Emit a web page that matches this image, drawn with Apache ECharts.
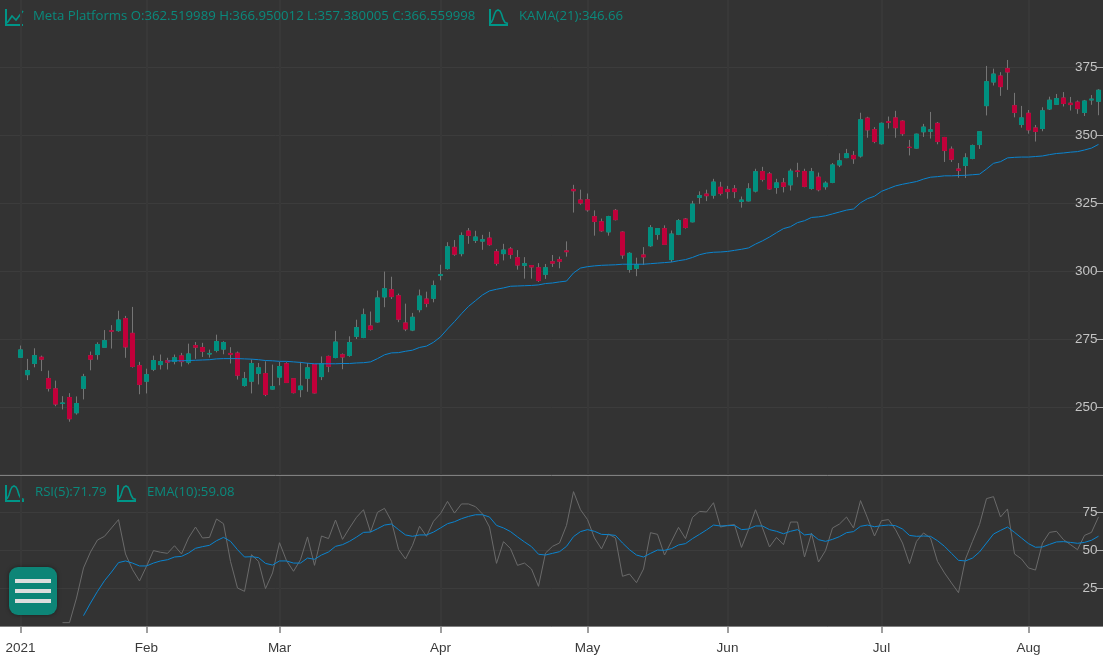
<!DOCTYPE html>
<html lang="en">
<head>
  <meta charset="UTF-8">
  <title>Meta Platforms</title>
  <script src="https://cdn.jsdelivr.net/npm/echarts@6/dist/echarts.min.js"></script>
  <style type="text/css">
    html, body { margin: 0; padding: 0; background: #fff; overflow: hidden; }
    #main { width: 1103px; height: 661px; }
  </style>
</head>
<body>
<div id="main"></div>
<script type="text/javascript">
// month ticks: trading day index -> label
var monthDays = [0, 18, 37, 60, 81, 101, 123, 144];
var monthNames = ['2021', 'Feb', 'Mar', 'Apr', 'May', 'Jun', 'Jul', 'Aug'];

var opens = [
  268.4, 262.0, 266.1, 268.4, 260.6, 256.8, 251.4, 253.6, 248.0, 257.0,
  269.0, 269.4, 272.1, 278.1, 278.2, 282.6, 277.2, 265.3, 259.6, 264.0,
  265.7, 267.1, 266.9, 268.9, 266.6, 272.7, 272.0, 269.6, 270.9, 271.4,
  269.8, 269.9, 258.0, 259.6, 262.5, 262.4, 256.7, 261.1, 266.0, 260.5,
  256.5, 260.7, 265.7, 261.3, 268.7, 268.3, 269.3, 269.1, 276.1, 275.7,
  279.9, 281.4, 290.6, 293.2, 291.0, 281.0, 278.4, 285.9, 289.8, 290.1,
  298.5, 301.0, 308.8, 306.5, 314.8, 311.4, 311.1, 312.2, 307.2, 306.5,
  308.2, 305.0, 302.2, 302.1, 301.3, 298.9, 303.5, 304.3, 307.5, 330.1,
  326.2, 326.3, 320.1, 318.2, 314.5, 322.4, 314.4, 300.7, 301.1, 306.0,
  309.4, 313.6, 315.7, 304.3, 313.6, 319.2, 318.2, 327.2, 328.4, 328.0,
  330.9, 330.1, 330.3, 325.7, 325.9, 329.5, 336.7, 335.8, 330.8, 332.5,
  331.8, 336.9, 336.7, 330.5, 334.6, 331.1, 332.7, 339.1, 341.8, 342.6,
  342.4, 356.3, 352.1, 346.9, 355.0, 356.4, 355.2, 345.6, 345.3, 351.3,
  351.5, 354.4, 349.2, 344.9, 337.6, 338.9, 341.5, 346.6, 360.9, 369.6,
  371.8, 374.5, 360.9, 354.0, 358.1, 352.7, 352.5, 359.7, 361.4, 363.7,
  361.8, 362.2, 358.4, 363.0, 362.52
];
var closes = [
  271.1, 263.5, 269.0, 267.7, 257.0, 251.2, 251.6, 245.8, 251.4, 261.2,
  267.7, 273.1, 274.5, 278.0, 282.1, 272.2, 265.0, 258.4, 262.0, 267.2,
  266.8, 266.6, 268.2, 266.8, 269.6, 272.1, 270.6, 269.8, 274.2, 273.8,
  269.5, 261.8, 260.5, 266.1, 264.5, 254.7, 257.6, 265.0, 259.1, 255.4,
  257.8, 264.5, 255.3, 266.0, 265.1, 274.0, 268.5, 273.8, 279.3, 284.0,
  278.7, 290.2, 293.6, 290.7, 282.4, 278.8, 283.1, 290.9, 288.2, 294.7,
  298.8, 309.0, 306.3, 313.1, 313.2, 312.6, 311.6, 309.8, 302.9, 307.8,
  306.2, 302.3, 302.8, 301.6, 296.6, 301.3, 303.0, 303.7, 307.2, 329.6,
  325.1, 322.6, 318.3, 314.9, 320.1, 319.0, 306.0, 306.6, 302.4, 305.3,
  316.0, 315.7, 309.9, 313.7, 318.6, 316.1, 324.7, 327.8, 327.8, 332.8,
  328.7, 329.3, 329.3, 326.2, 330.3, 336.6, 333.8, 330.3, 332.5, 331.2,
  336.8, 336.7, 331.2, 336.6, 330.0, 332.4, 339.1, 340.6, 343.2, 341.4,
  355.7, 352.0, 347.7, 354.4, 354.7, 352.8, 350.6, 345.5, 350.4, 353.0,
  352.0, 347.7, 344.4, 341.2, 337.1, 341.7, 346.2, 351.3, 369.7, 372.5,
  367.9, 373.3, 358.4, 356.4, 352.0, 351.4, 359.0, 362.9, 363.5, 361.7,
  361.3, 359.8, 362.6, 363.3, 366.56
];
var highs = [
  272.7, 267.8, 271.7, 269.0, 263.5, 259.8, 254.1, 255.2, 254.0, 262.3,
  270.5, 273.9, 278.4, 280.2, 285.5, 283.6, 286.9, 266.7, 264.2, 269.0,
  269.4, 268.2, 269.4, 270.0, 273.4, 274.0, 273.7, 271.2, 276.7, 274.3,
  272.1, 270.5, 263.0, 267.6, 266.3, 266.9, 265.7, 266.7, 266.6, 260.5,
  266.7, 266.3, 265.7, 268.7, 269.0, 278.1, 269.8, 276.1, 282.2, 286.3,
  285.2, 292.9, 299.9, 298.0, 291.8, 288.1, 284.7, 293.3, 292.5, 296.6,
  302.4, 310.7, 311.5, 314.3, 315.9, 314.9, 313.4, 314.5, 308.2, 310.1,
  308.9, 307.8, 305.2, 302.2, 303.0, 302.7, 306.0, 305.4, 311.0, 331.8,
  330.0, 328.6, 322.4, 319.4, 320.4, 322.9, 314.7, 307.0, 305.0, 308.9,
  317.0, 315.7, 316.9, 315.0, 319.2, 319.6, 325.9, 329.4, 330.0, 334.0,
  332.9, 331.4, 331.7, 327.5, 332.4, 337.7, 338.4, 336.5, 334.0, 334.3,
  337.7, 339.9, 337.7, 338.0, 336.3, 333.1, 339.8, 343.4, 345.0, 344.2,
  358.3, 356.8, 353.0, 354.7, 356.9, 359.0, 355.5, 348.3, 350.6, 354.2,
  358.6, 354.9, 349.4, 345.9, 339.8, 343.4, 346.6, 351.5, 375.5, 374.5,
  373.2, 377.7, 365.6, 360.8, 359.3, 353.8, 360.3, 364.2, 365.2, 365.9,
  364.1, 362.8, 363.0, 364.8, 366.95
];
var lows = [
  268.2, 260.0, 264.7, 263.3, 255.8, 250.4, 249.2, 244.7, 247.3, 252.9,
  263.6, 267.5, 272.1, 271.6, 277.8, 268.2, 264.6, 254.8, 255.1, 263.3,
  263.9, 263.9, 265.8, 265.0, 265.8, 267.8, 268.5, 268.3, 270.2, 269.5,
  266.1, 260.2, 257.6, 255.1, 258.4, 254.1, 256.5, 258.1, 259.0, 255.1,
  253.7, 255.7, 255.1, 260.0, 262.9, 268.0, 264.0, 268.6, 275.1, 275.4,
  278.2, 281.1, 286.8, 289.8, 281.3, 278.0, 278.0, 284.9, 286.8, 288.6,
  296.7, 300.6, 305.7, 305.5, 310.1, 310.4, 307.9, 309.4, 302.1, 304.0,
  304.6, 300.6, 297.3, 297.3, 296.1, 297.2, 301.6, 301.1, 305.4, 321.6,
  324.5, 321.9, 313.1, 314.5, 313.1, 318.7, 304.6, 299.5, 298.2, 302.3,
  309.0, 311.6, 309.7, 303.4, 313.3, 315.7, 318.0, 324.8, 325.8, 326.7,
  327.9, 326.7, 326.9, 323.4, 325.7, 329.0, 333.0, 330.0, 328.5, 329.0,
  329.7, 334.6, 330.9, 330.0, 329.4, 330.0, 332.4, 338.3, 341.6, 339.5,
  341.8, 349.1, 347.1, 346.6, 352.5, 349.1, 349.8, 342.6, 345.1, 349.4,
  348.8, 346.7, 340.2, 340.2, 334.4, 334.3, 341.2, 345.0, 357.3, 368.3,
  364.5, 366.7, 356.6, 352.8, 350.6, 347.7, 351.5, 359.3, 361.2, 360.6,
  359.1, 357.9, 357.1, 361.2, 357.38
];
// KAMA starts at day 21
var kama = [
  267.0, 267.1, 267.1, 267.2, 267.3, 267.4, 267.5, 267.8, 267.9,
  267.9, 267.9, 267.8, 267.7, 267.5, 267.2, 267.1, 266.9, 266.9, 266.7,
  266.5, 266.2, 266.0, 266.0, 266.0, 266.0, 266.1, 266.1, 266.3, 266.4,
  266.7, 267.9, 269.3, 270.0, 270.1, 270.6, 271.0, 272.0, 272.5, 273.9,
  275.9, 278.8, 281.5, 284.4, 287.1, 289.2, 291.3, 292.8, 293.4, 293.9,
  294.5, 294.6, 294.7, 294.8, 295.0, 295.5, 295.7, 296.1, 296.4, 299.4,
  301.2, 301.7, 302.0, 302.2, 302.3, 302.4, 302.6, 302.6, 302.6, 302.6,
  302.8, 303.0, 303.2, 303.4, 303.9, 304.3, 305.1, 306.1, 306.7, 307.0,
  307.1, 307.3, 307.7, 308.1, 308.6, 310.0, 311.2, 312.6, 314.2, 315.7,
  316.4, 317.9, 318.6, 319.8, 320.0, 320.4, 321.1, 321.8, 322.5, 322.9,
  325.2, 326.7, 327.6, 329.4, 330.4, 331.4, 332.0, 332.5, 333.0, 333.9,
  334.6, 334.8, 335.1, 335.1, 335.2, 335.3, 335.5, 335.7, 337.6, 339.7,
  340.3, 341.7, 341.9, 342.0, 342.0, 342.2, 342.4, 342.9, 343.3, 343.5,
  343.8, 344.0, 344.6, 345.3, 346.66
];
// RSI starts at day 6
var rsi = [
  2.2, 2.2, 18.4, 38.2,
  48.7, 56.6, 59.0, 64.5, 70.0, 47.4, 37.1, 29.6, 39.3, 49.6,
  48.5, 47.8, 52.8, 47.4, 57.9, 65.1, 57.9, 58.3, 70.4, 67.3,
  42.5, 25.0, 22.8, 46.9, 42.5, 24.6, 34.9, 54.8, 43.0, 36.0,
  43.6, 58.6, 39.9, 59.2, 57.5, 69.7, 57.0, 64.5, 71.5, 76.5,
  61.8, 74.8, 77.4, 68.9, 50.4, 44.1, 53.1, 65.6, 59.0, 68.9,
  73.9, 82.0, 74.3, 80.3, 80.3, 78.5, 73.7, 65.1, 41.2, 55.5,
  50.9, 39.9, 41.4, 37.5, 26.1, 48.0, 52.4, 54.6, 66.2, 88.4,
  76.5, 70.0, 57.9, 50.7, 60.5, 57.9, 32.7, 34.2, 28.5, 37.5,
  61.4, 60.3, 46.7, 55.7, 64.9, 57.5, 71.5, 75.4, 75.0, 81.1,
  65.1, 66.2, 66.7, 51.7, 63.4, 76.5, 64.5, 52.0, 58.3, 53.5,
  68.4, 68.4, 45.4, 61.0, 42.1, 49.6, 64.5, 67.1, 71.7, 64.5,
  82.5, 71.1, 59.2, 69.3, 70.0, 63.4, 54.6, 41.0, 55.7, 61.2,
  57.9, 42.5, 34.9, 28.3, 21.9, 44.1, 55.7, 66.7, 83.8, 85.1,
  71.7, 77.0, 47.4, 44.1, 38.2, 36.8, 54.6, 61.6, 62.3, 56.8,
  53.5, 50.2, 59.6, 61.6, 71.79
];
// EMA of RSI starts at day 9
var ema = [
  6.8,
  15.1, 22.8, 29.8, 35.5, 41.7, 42.8, 41.4, 39.5, 39.5, 41.4,
  42.8, 43.6, 45.4, 45.8, 48.0, 51.1, 52.2, 53.1, 56.1, 58.3,
  55.7, 50.2, 45.4, 45.6, 45.0, 41.2, 40.1, 42.8, 42.8, 41.4,
  41.4, 44.7, 43.9, 46.7, 48.7, 52.4, 53.5, 55.7, 58.5, 61.6,
  61.8, 64.0, 66.4, 67.1, 63.4, 59.9, 59.0, 59.9, 59.9, 61.8,
  64.5, 67.3, 68.6, 70.6, 72.1, 73.2, 73.2, 71.7, 66.2, 64.5,
  62.1, 58.6, 55.3, 52.2, 47.2, 46.7, 47.8, 48.9, 52.4, 58.8,
  62.1, 63.4, 62.3, 60.3, 60.1, 59.6, 54.6, 50.2, 46.7, 45.4,
  47.8, 50.0, 49.8, 50.9, 53.3, 54.2, 57.5, 60.3, 63.2, 66.4,
  65.8, 66.0, 66.2, 63.4, 63.8, 65.8, 65.8, 63.4, 62.3, 60.7,
  62.3, 63.4, 59.9, 60.5, 56.8, 55.7, 57.0, 58.8, 61.4, 62.1,
  65.6, 66.4, 65.3, 66.0, 66.4, 66.0, 63.8, 59.6, 59.0, 59.2,
  59.0, 56.1, 52.4, 47.8, 43.2, 42.8, 44.7, 48.7, 54.6, 60.5,
  62.9, 65.1, 61.6, 57.9, 54.2, 51.8, 52.0, 53.7, 55.3, 55.5,
  55.0, 54.4, 55.0, 56.4, 59.08
];

// 3 empty days on the left and 1 on the right, so the panes reach the page edges
var padLeft = 3, padRight = 1;
function pad(arr, skip) {
  var out = [];
  for (var i = 0; i < padLeft + skip; i++) out.push(null);
  out = out.concat(arr);
  for (var j = 0; j < padRight; j++) out.push(null);
  return out;
}

var labels = [];
for (var d = 0; d < padLeft + opens.length + padRight; d++) labels.push('');
for (var m = 0; m < monthDays.length; m++) labels[padLeft + monthDays[m]] = monthNames[m];
function isMonth(i) { return labels[i] !== ''; }

var wicks = [], bodies = [];
for (var k = 0; k < opens.length; k++) {
  wicks.push([opens[k], closes[k], lows[k], highs[k]]);
  bodies.push([opens[k], closes[k], Math.min(opens[k], closes[k]), Math.max(opens[k], closes[k])]);
}
function padEmpty(arr) {
  var out = [];
  for (var i = 0; i < padLeft; i++) out.push('-');
  out = out.concat(arr);
  for (var j = 0; j < padRight; j++) out.push('-');
  return out;
}

var UP = '#00907f', DOWN = '#c0003a', WICK = '#757575', BLUE = '#0a84cf', RSI_COLOR = '#6a6a6a';
var TEAL = '#0a8a7d', ICON = '#009688', GRID = '#3c3c3c', VGRID = '#383838';

function headerText(x, y, text) {
  return { type: 'text', x: x, y: y, z: 50, style: {
    text: text, fill: TEAL, font: '13.2px "Open Sans"', textVerticalAlign: 'middle'
  } };
}
function axesIcon(x, y, w, h, points) {
  return { type: 'group', x: x, y: y, z: 50, children: [
    { type: 'polyline', shape: { points: [[1, 0], [1, h], [w, h]] }, style: { stroke: ICON, lineWidth: 2, fill: 'none' } },
    { type: 'polyline', shape: { points: points }, style: { stroke: ICON, lineWidth: 1.6, fill: 'none' } }
  ] };
}
var linePts = [[2, 14], [7, 7], [11, 11], [18, 2]];
var bellPts = [[2, 14], [4, 10], [5.5, 5], [7, 2], [9, 1], [11, 2], [12.5, 5], [14, 10], [16, 13.5], [19, 14.5]];

var chart = echarts.init(document.getElementById('main'));
chart.setOption({
  backgroundColor: '#333333',
  animation: false,
  grid: [
    { left: -0.5, top: -0.7, width: 1106, height: 476, outerBoundsMode: 'none' },
    { left: -0.5, top: 474, width: 1106, height: 152, outerBoundsMode: 'none' }
  ],
  xAxis: [
    {
      gridIndex: 0, type: 'category', data: labels, boundaryGap: false,
      axisLine: { lineStyle: { color: '#808080' } },
      axisTick: { show: false }, axisLabel: { show: false },
      splitLine: { show: true, interval: isMonth, lineStyle: { color: VGRID, width: 2 } }
    },
    {
      gridIndex: 1, type: 'category', data: labels, boundaryGap: false,
      axisLine: { lineStyle: { color: '#808080', width: 1 } },
      axisTick: { interval: isMonth, length: 7, lineStyle: { color: '#808080', width: 1.5 } },
      axisLabel: { interval: isMonth, margin: 15, color: '#3a3a3a', fontSize: 13.5, fontFamily: 'Liberation Sans' },
      splitLine: { show: true, interval: isMonth, lineStyle: { color: VGRID, width: 2 } }
    }
  ],
  yAxis: [
    {
      gridIndex: 0, type: 'value', position: 'right', min: 225, max: 400, interval: 25,
      axisLine: { show: false },
      axisTick: { show: true, inside: true, length: 9, lineStyle: { color: '#aaa' } },
      axisLabel: { inside: true, margin: 8, color: '#c4c4c4', fontSize: 13.5, fontFamily: 'Liberation Sans', showMinLabel: false, showMaxLabel: false },
      splitLine: { lineStyle: { color: GRID } }
    },
    {
      gridIndex: 1, type: 'value', position: 'right', min: 0, max: 100, interval: 25,
      axisLine: { show: false },
      axisTick: { show: true, inside: true, length: 9, lineStyle: { color: '#aaa' } },
      axisLabel: { inside: true, margin: 8, color: '#c4c4c4', fontSize: 13.5, fontFamily: 'Liberation Sans', showMinLabel: false, showMaxLabel: false },
      splitLine: { lineStyle: { color: GRID } }
    }
  ],
  series: [
    {
      name: 'wicks', type: 'candlestick', xAxisIndex: 0, yAxisIndex: 0, barWidth: 4, data: padEmpty(wicks),
      itemStyle: { color: UP, color0: DOWN, borderColor: WICK, borderColor0: WICK, borderWidth: 1 }
    },
    {
      name: 'bodies', type: 'candlestick', xAxisIndex: 0, yAxisIndex: 0, barWidth: 4, data: padEmpty(bodies),
      itemStyle: { color: UP, color0: DOWN, borderColor: UP, borderColor0: DOWN, borderWidth: 1 }
    },
    {
      name: 'KAMA(21)', type: 'line', xAxisIndex: 0, yAxisIndex: 0, showSymbol: false, data: pad(kama, 21),
      lineStyle: { color: BLUE, width: 1 }
    },
    {
      name: 'RSI(5)', type: 'line', xAxisIndex: 1, yAxisIndex: 1, showSymbol: false, data: pad(rsi, 6),
      lineStyle: { color: RSI_COLOR, width: 1 }
    },
    {
      name: 'EMA(10)', type: 'line', xAxisIndex: 1, yAxisIndex: 1, showSymbol: false, data: pad(ema, 9),
      lineStyle: { color: BLUE, width: 1 }
    }
  ],
  graphic: [
    // white strip behind the date labels
    { type: 'rect', z: -1, shape: { x: 0, y: 626, width: 1103, height: 35 }, style: { fill: '#ffffff' } },
    axesIcon(5, 9, 18, 16, linePts),
    headerText(33, 16, 'Meta Platforms O:362.519989 H:366.950012 L:357.380005 C:366.559998'),
    axesIcon(489, 9, 19, 16, bellPts),
    headerText(519, 16, 'KAMA(21):346.66'),
    axesIcon(5, 485, 19, 16, bellPts),
    headerText(35, 492, 'RSI(5):71.79'),
    axesIcon(117, 485, 19, 16, bellPts),
    headerText(147, 492, 'EMA(10):59.08'),
    // menu button
    { type: 'rect', z: 60, shape: { x: 9, y: 567, width: 48, height: 48, r: 9 },
      style: { fill: '#0d8577', shadowBlur: 4, shadowColor: 'rgba(0,0,0,0.4)' } },
    { type: 'rect', z: 61, shape: { x: 15, y: 579, width: 36, height: 4 }, style: { fill: '#dddddd' } },
    { type: 'rect', z: 61, shape: { x: 15, y: 589, width: 36, height: 4 }, style: { fill: '#dddddd' } },
    { type: 'rect', z: 61, shape: { x: 15, y: 599, width: 36, height: 4 }, style: { fill: '#dddddd' } }
  ]
});
</script>
</body>
</html>
